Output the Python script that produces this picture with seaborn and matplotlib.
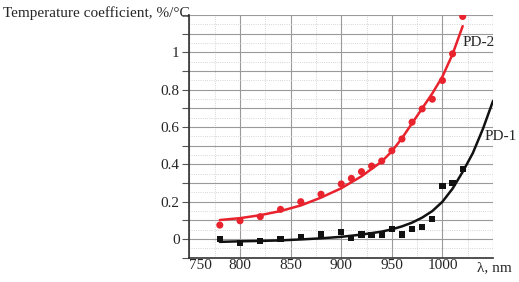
import numpy as np
import pandas as pd
import seaborn as sns
import matplotlib
matplotlib.use("Agg")
from matplotlib import pyplot as plt
from matplotlib.ticker import MultipleLocator, FuncFormatter

sns.set_style('white')
plt.rcParams['font.family'] = ['Liberation Serif', 'DejaVu Serif']

# measured points (nm, %/degC)
WL_PTS = [780, 800, 820, 840, 860, 880, 900, 910, 920, 930, 940, 950,
          960, 970, 980, 990, 1000, 1010, 1020]
PD2_PTS = [0.075, 0.098, 0.12, 0.159, 0.20, 0.24, 0.295, 0.325, 0.361, 0.391,
           0.418, 0.473, 0.536, 0.626, 0.697, 0.749, 0.849, 0.992, 1.192]
PD1_PTS = [0.0, -0.023, -0.011, 0.0, 0.012, 0.025, 0.039, 0.007, 0.025, 0.02,
           0.025, 0.054, 0.025, 0.054, 0.064, 0.107, 0.284, 0.30, 0.374]

# fitted curves
PD2_FIT_WL = [780, 800, 820, 840, 860, 880, 900, 920, 940, 950, 960, 970,
              980, 990, 1000, 1010, 1020]
PD2_FIT = [0.102, 0.112, 0.128, 0.150, 0.180, 0.222, 0.272, 0.336, 0.415,
           0.47, 0.54, 0.62, 0.70, 0.78, 0.87, 0.99, 1.14]
PD1_FIT_WL = [780, 800, 820, 840, 860, 880, 900, 920, 940, 950, 960, 970,
              980, 990, 1000, 1010, 1020, 1030, 1040, 1050]
PD1_FIT = [-0.015, -0.012, -0.01, -0.007, -0.002, 0.004, 0.012, 0.024, 0.04,
           0.052, 0.068, 0.088, 0.115, 0.15, 0.20, 0.27, 0.36, 0.46, 0.59, 0.74]

pts = pd.DataFrame({'wl': WL_PTS, 'pd1': PD1_PTS, 'pd2': PD2_PTS})
fit2 = pd.DataFrame({'wl': PD2_FIT_WL, 'y': PD2_FIT})
fit1 = pd.DataFrame({'wl': PD1_FIT_WL, 'y': PD1_FIT})

RED = '#e8232d'
BLACK = '#111111'
FS = 11

fig = plt.figure(figsize=(5.19, 2.82), dpi=100)
ax = fig.add_axes([0.365, 0.086, 0.585, 0.861])

sns.lineplot(data=fit2, x='wl', y='y', color=RED, lw=1.8, ax=ax)
sns.lineplot(data=fit1, x='wl', y='y', color=BLACK, lw=1.8, ax=ax)
sns.scatterplot(data=pts, x='wl', y='pd2', color=RED, marker='o', s=26,
                edgecolor='none', ax=ax, zorder=3)
sns.scatterplot(data=pts, x='wl', y='pd1', color=BLACK, marker='s', s=20,
                edgecolor='none', ax=ax, zorder=3)

ax.set_xlim(750, 1050)
ax.set_ylim(-0.1, 1.2)
ax.xaxis.set_major_locator(MultipleLocator(50))
ax.xaxis.set_minor_locator(MultipleLocator(25))
ax.yaxis.set_major_locator(MultipleLocator(0.1))
ax.yaxis.set_minor_locator(MultipleLocator(0.05))

def ylab(v, pos):
    k = int(round(v * 10))
    if k < 0 or k % 2 or k > 10:
        return ''
    return f"{v:.1f}".replace('0.0', '0').replace('1.0', '1')
ax.yaxis.set_major_formatter(FuncFormatter(ylab))
ax.xaxis.set_major_formatter(
    FuncFormatter(lambda v, p: '' if v > 1000 or v < 750 else f"{int(v)}"))

ax.grid(which='major', color='#9a9a9a', lw=0.8, ls='-')
ax.grid(which='minor', color='#c8c8c8', lw=0.6, ls=':')
ax.set_axisbelow(True)
for s in ['top', 'right']:
    ax.spines[s].set_visible(False)
for s in ['left', 'bottom']:
    ax.spines[s].set_color('#333333')
    ax.spines[s].set_linewidth(1.2)
ax.tick_params(axis='y', which='major', length=5, width=0.8, color='#555555',
               labelsize=FS, pad=2, direction='out', left=True)
ax.tick_params(axis='x', which='major', length=0, labelsize=FS, pad=1)
ax.tick_params(which='minor', length=0)
ax.set_xlabel('')
ax.set_ylabel('')

fig.canvas.draw()
for t in ax.get_xticklabels():
    if t.get_text() == '750':
        t.set_horizontalalignment('left')

ax.text(0.947, -0.016, 'λ, nm', transform=ax.transAxes, ha='left', va='top',
        fontsize=FS)
fig.text(0.006, 0.953, 'Temperature coefficient, %/°C', ha='left', va='center',
         fontsize=FS)
ax.text(1020, 1.05, 'PD-2', fontsize=FS, va='center', ha='left')
ax.text(1042, 0.55, 'PD-1', fontsize=FS, va='center', ha='left')

fig.savefig('out.png', dpi=100)
